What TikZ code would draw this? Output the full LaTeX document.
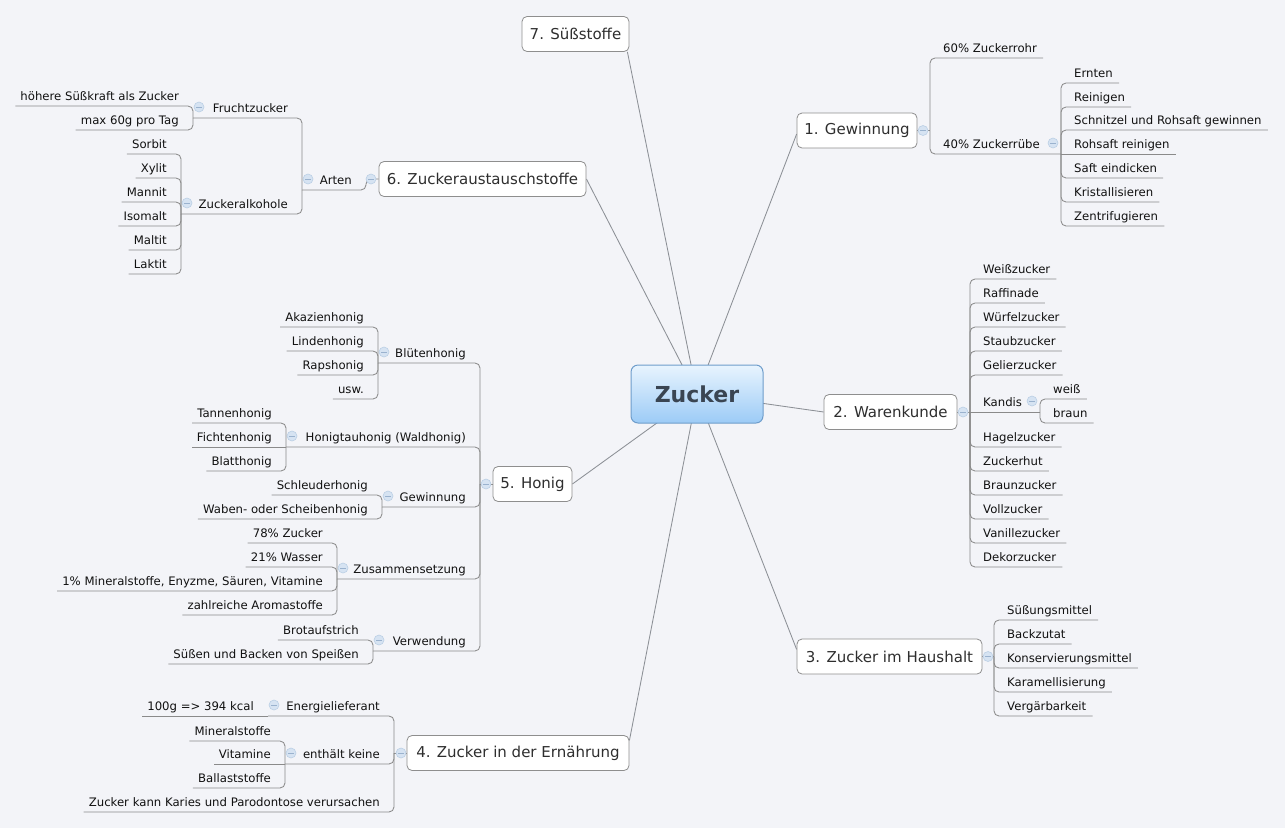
\documentclass[tikz,border=0pt]{standalone}
\usepackage{fontspec}
\setmainfont{DejaVu Sans}
\usetikzlibrary{calc}
\definecolor{bgc}{HTML}{F3F4F8}
\definecolor{linec}{HTML}{8A8A8A}
\definecolor{connc}{HTML}{8C9096}
\definecolor{boxc}{HTML}{8E8E8E}
\definecolor{txtc}{HTML}{111111}
\definecolor{toptxt}{HTML}{2E2E2E}
\definecolor{ctop}{HTML}{E8F4FE}
\definecolor{cbot}{HTML}{9CCBF6}
\definecolor{cbord}{HTML}{6E9DCB}
\definecolor{ctxt}{HTML}{3A4552}
\definecolor{collf}{HTML}{D6E3F2}
\definecolor{colld}{HTML}{BBCFE5}
\definecolor{collm}{HTML}{9AB2CE}
\pgfdeclarelayer{bglayer}
\pgfsetlayers{bglayer,main}
\tikzset{
 itm/.style={font=\fontsize{11.7}{14}\selectfont, text=txtc, inner sep=0pt},
 br/.style={draw=linec, line width=0.85pt, rounded corners=5pt},
 conn/.style={draw=connc, line width=0.85pt},
 topic/.style={draw=boxc, fill=white, line width=0.8pt, rounded corners=5pt, font=\fontsize{15}{18}\selectfont, text=toptxt, minimum height=35pt, inner xsep=5pt},
 central/.style={draw=cbord, line width=1pt, rounded corners=7pt, top color=ctop, bottom color=cbot, font=\fontsize{22}{26}\selectfont\bfseries, text=ctxt},
 coll/.style={circle, draw=colld, fill=collf, line width=0.6pt, minimum size=10pt, inner sep=0pt,
   path picture={\draw[collm, line width=0.8pt] ([xshift=-2.6pt]path picture bounding box.center) -- ([xshift=2.6pt]path picture bounding box.center);}},
}
% right leaf: name, spine x, junction y, child y, text
\newcommand\rleaf[5]{%
 \node[itm,anchor=base west] (#1) at ({#2+13},{#4-6}) {#5};
 \coordinate (#1j) at (#2,#4);
 \coordinate (#1e) at ([xshift=6pt]#1.base east);
 \ifdim #3pt=#4pt\relax
  \draw[br] (#1j) -- (#1e |- #1j);
 \else
  \draw[br] (#2,#3) -- (#1j) -- (#1e |- #1j);
 \fi}
% right mid: name, spine x, junction y, child y, text, child spine x
\newcommand\rmid[6]{%
 \node[itm,anchor=base west] (#1) at ({#2+13},{#4-6}) {#5};
 \coordinate (#1j) at (#2,#4);
 \coordinate (#1s) at (#6,#4);
 \ifdim #3pt=#4pt\relax
  \draw[br] (#1j) -- (#1s);
 \else
  \draw[br] (#2,#3) -- (#1j) -- (#1s);
 \fi
 \node[coll] (#1c) at ({#6-8},{#4-11}) {};}
% left leaf
\newcommand\lleaf[5]{%
 \node[itm,anchor=base east] (#1) at ({#2-14},{#4-6}) {#5};
 \coordinate (#1j) at (#2,#4);
 \coordinate (#1e) at ([xshift=-5pt]#1.base west);
 \ifdim #3pt=#4pt\relax
  \draw[br] (#1j) -- (#1e |- #1j);
 \else
  \draw[br] (#2,#3) -- (#1j) -- (#1e |- #1j);
 \fi}
% left mid
\newcommand\lmid[6]{%
 \node[itm,anchor=base east] (#1) at ({#2-14},{#4-6}) {#5};
 \coordinate (#1j) at (#2,#4);
 \coordinate (#1s) at (#6,#4);
 \ifdim #3pt=#4pt\relax
  \draw[br] (#1j) -- (#1s);
 \else
  \draw[br] (#2,#3) -- (#1j) -- (#1s);
 \fi
 \node[coll] (#1c) at ({#6+6},{#4-11}) {};}
\begin{document}
\begin{tikzpicture}[x=1pt,y=-1pt]
\begin{pgfonlayer}{bglayer}
\fill[bgc] (0,0) rectangle (1285,828);
\end{pgfonlayer}
\useasboundingbox (0,0) rectangle (1285,828);

% main topics
\node[central, minimum width=132pt, minimum height=58pt] (c) at (697,394) {Zucker};
\node[topic, minimum width=120pt] (n1) at (857,130.5) {1. Gewinnung};
\node[topic, minimum width=133pt] (n2) at (890.5,412) {2. Warenkunde};
\node[topic, minimum width=185pt] (n3) at (889.5,656.5) {3. Zucker im Haushalt};
\node[topic, minimum width=222pt] (n4) at (518,753) {4. Zucker in der Ernährung};
\node[topic, minimum width=79pt] (n5) at (532.5,484) {5. Honig};
\node[topic, minimum width=207pt] (n6) at (482.5,179) {6. Zuckeraustauschstoffe};
\node[topic, minimum width=107pt] (n7) at (575.5,34) {7. Süßstoffe};

% ---- 1. Gewinnung
\coordinate (n1s) at (930,130.5);
\draw[br] (n1.east) -- (n1s);
\node[coll] (n1c) at (923,130.5) {};
\rleaf{g1}{930}{130.5}{58}{60\% Zuckerrohr}
\rmid{g2}{930}{130.5}{154}{40\% Zuckerrübe}{1061}
\rleaf{g21}{1061}{154}{83}{Ernten}
\rleaf{g22}{1061}{154}{107}{Reinigen}
\rleaf{g23}{1061}{154}{130}{Schnitzel und Rohsaft gewinnen}
\rleaf{g24}{1061}{154}{154}{Rohsaft reinigen}
\rleaf{g25}{1061}{154}{178}{Saft eindicken}
\rleaf{g26}{1061}{154}{202}{Kristallisieren}
\rleaf{g27}{1061}{154}{226}{Zentrifugieren}

% ---- 2. Warenkunde
\coordinate (n2s) at (970,412);
\draw[br] (n2.east) -- (n2s);
\node[coll] (n2c) at (963,412) {};
\rleaf{w1}{970}{412}{279}{Weißzucker}
\rleaf{w2}{970}{412}{303}{Raffinade}
\rleaf{w3}{970}{412}{327}{Würfelzucker}
\rleaf{w4}{970}{412}{351}{Staubzucker}
\rleaf{w5}{970}{412}{375}{Gelierzucker}
\rmid{w6}{970}{412}{412}{Kandis}{1040}
\rleaf{w61}{1040}{412}{399}{weiß}
\rleaf{w62}{1040}{412}{423}{braun}
\rleaf{w7}{970}{412}{447}{Hagelzucker}
\rleaf{w8}{970}{412}{471}{Zuckerhut}
\rleaf{w9}{970}{412}{495}{Braunzucker}
\rleaf{w10}{970}{412}{519}{Vollzucker}
\rleaf{w11}{970}{412}{543}{Vanillezucker}
\rleaf{w12}{970}{412}{567}{Dekorzucker}

% ---- 3. Zucker im Haushalt
\coordinate (n3s) at (994,656.5);
\draw[br] (n3.east) -- (n3s);
\node[coll] (n3c) at (988,656.5) {};
\rleaf{z1}{994}{656.5}{620}{Süßungsmittel}
\rleaf{z2}{994}{656.5}{644}{Backzutat}
\rleaf{z3}{994}{656.5}{668}{Konservierungsmittel}
\rleaf{z4}{994}{656.5}{692}{Karamellisierung}
\rleaf{z5}{994}{656.5}{716}{Vergärbarkeit}

% ---- 4. Zucker in der Ernaehrung
\coordinate (n4s) at (394,753);
\draw[br] (n4.west) -- (n4s);
\node[coll] (n4c) at (401,753) {};
\lmid{e1}{394}{753}{716}{Energielieferant}{268}
\lleaf{e11}{268}{716}{716}{100g => 394 kcal}
\lmid{e2}{394}{753}{764}{enthält keine}{285}
\lleaf{e21}{285}{764}{741}{Mineralstoffe}
\lleaf{e22}{285}{764}{764}{Vitamine}
\lleaf{e23}{285}{764}{788}{Ballaststoffe}
\lleaf{e3}{394}{753}{812}{Zucker kann Karies und Parodontose verursachen}

% ---- 5. Honig
\coordinate (n5s) at (480,484);
\draw[br] (n5.west) -- (n5s);
\node[coll] (n5c) at (486,484) {};
\lmid{h1}{480}{484}{363}{Blütenhonig}{378}
\lleaf{h11}{378}{363}{327}{Akazienhonig}
\lleaf{h12}{378}{363}{351}{Lindenhonig}
\lleaf{h13}{378}{363}{375}{Rapshonig}
\lleaf{h14}{378}{363}{399}{usw.}
\lmid{h2}{480}{484}{447}{Honigtauhonig (Waldhonig)}{286}
\lleaf{h21}{286}{447}{423}{Tannenhonig}
\lleaf{h22}{286}{447}{447}{Fichtenhonig}
\lleaf{h23}{286}{447}{471}{Blatthonig}
\lmid{h3}{480}{484}{507}{Gewinnung}{382}
\lleaf{h31}{382}{507}{495}{Schleuderhonig}
\lleaf{h32}{382}{507}{519}{Waben- oder Scheibenhonig}
\lmid{h4}{480}{484}{579}{Zusammensetzung}{337}
\lleaf{h41}{337}{579}{543}{78\% Zucker}
\lleaf{h42}{337}{579}{567}{21\% Wasser}
\lleaf{h43}{337}{579}{591}{1\% Mineralstoffe, Enyzme, Säuren, Vitamine}
\lleaf{h44}{337}{579}{615}{zahlreiche Aromastoffe}
\lmid{h5}{480}{484}{651}{Verwendung}{373}
\lleaf{h51}{373}{651}{640}{Brotaufstrich}
\lleaf{h52}{373}{651}{664}{Süßen und Backen von Speißen}

% ---- 6. Zuckeraustauschstoffe
\coordinate (n6s) at (366,179);
\node[itm,anchor=base east] (a1) at (352,184) {Arten};
\coordinate (a1s) at (302,190);
\draw[br] (n6.west) -- (n6s) -- (366,190) -- (a1s);
\node[coll] (n6c) at (371,179) {};
\node[coll] (a1c) at (308,179) {};
\lmid{a2}{302}{190}{118}{Fruchtzucker}{193}
\lleaf{a21}{193}{118}{106}{höhere Süßkraft als Zucker}
\lleaf{a22}{193}{118}{130}{max 60g pro Tag}
\lmid{a3}{302}{190}{214}{Zuckeralkohole}{181}
\lleaf{a31}{181}{214}{154}{Sorbit}
\lleaf{a32}{181}{214}{178}{Xylit}
\lleaf{a33}{181}{214}{202}{Mannit}
\lleaf{a34}{181}{214}{226}{Isomalt}
\lleaf{a35}{181}{214}{250}{Maltit}
\lleaf{a36}{181}{214}{274}{Laktit}

% ---- central connectors
\begin{pgfonlayer}{bglayer}
\draw[conn] (c.center) -- ($(n1.north west)!0.6!(n1.south west)$);
\draw[conn] (c.center) -- (n2.west);
\draw[conn] (c.center) -- ($(n3.north west)!0.3!(n3.south west)$);
\draw[conn] (c.center) -- ($(n4.north east)!0.15!(n4.south east)$);
\draw[conn] (c.center) -- (n5.east);
\draw[conn] (c.center) -- (n6.east);
\draw[conn] (c.center) -- ([xshift=-2pt]n7.south east);
\end{pgfonlayer}
\end{tikzpicture}
\end{document}
